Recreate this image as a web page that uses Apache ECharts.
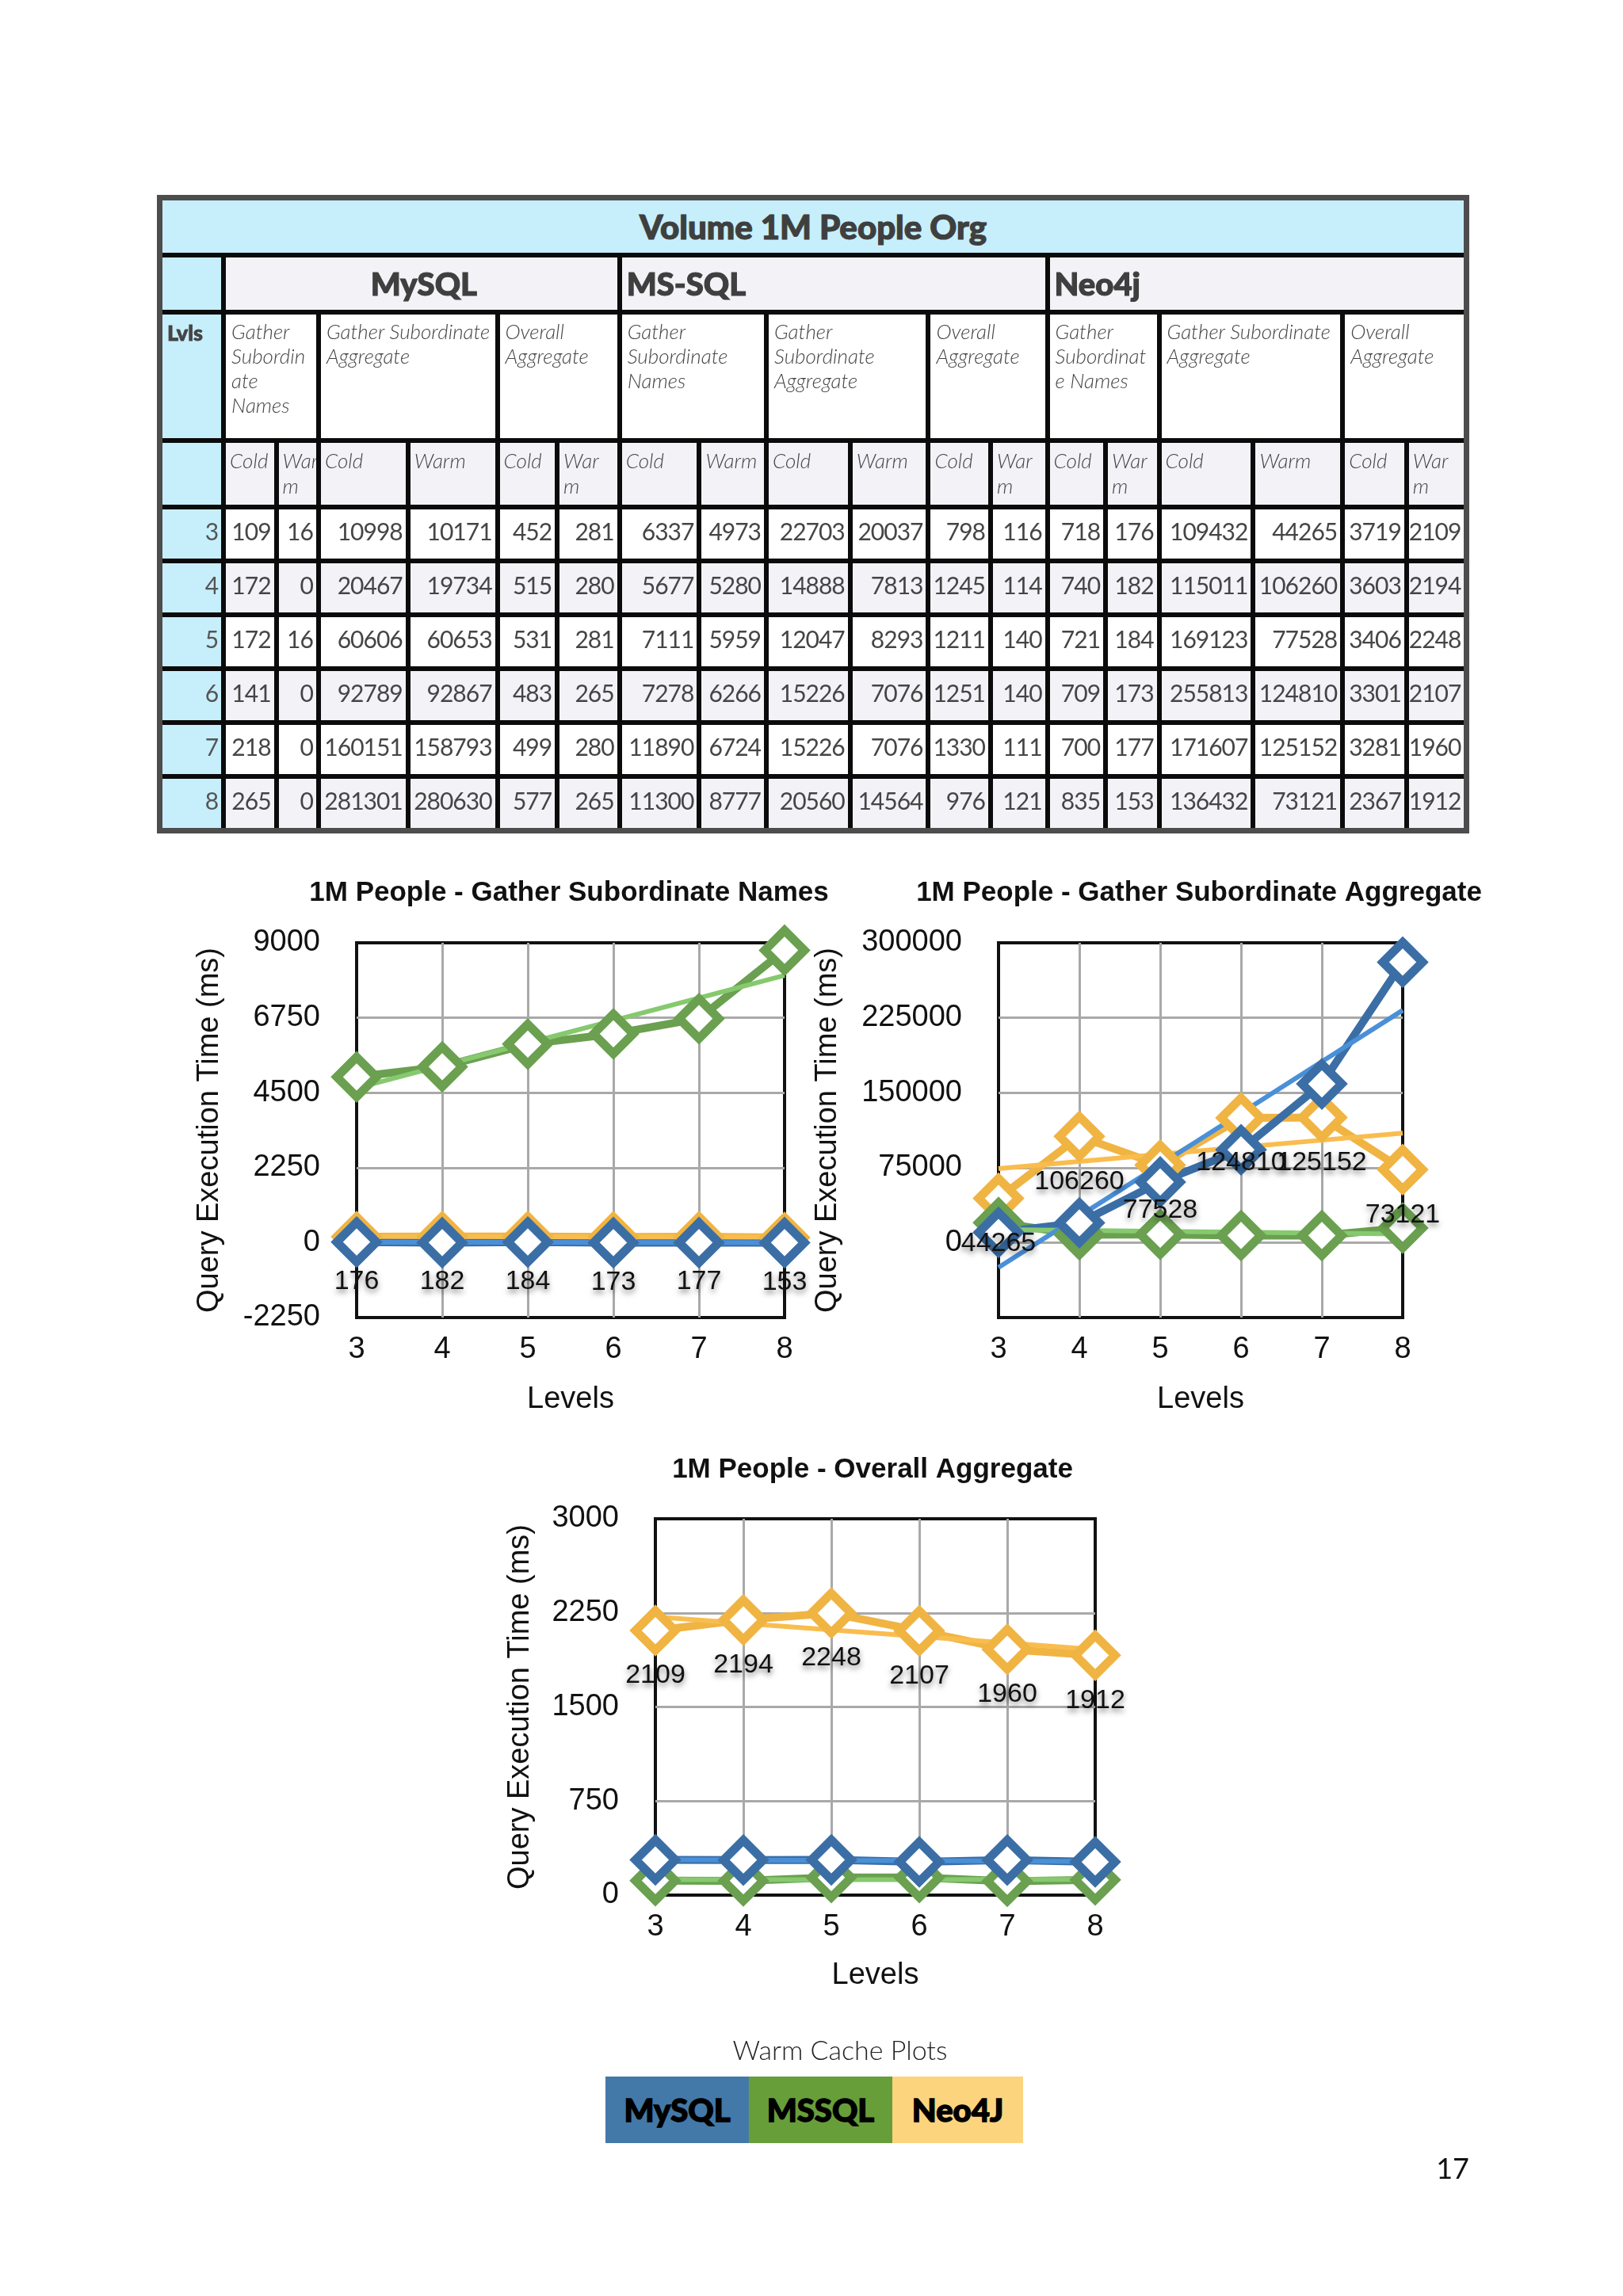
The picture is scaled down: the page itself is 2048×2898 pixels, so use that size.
<!DOCTYPE html>
<html><head><meta charset="utf-8">
<script src="https://cdn.jsdelivr.net/npm/echarts@6/dist/echarts.min.js"></script>
<style>
html,body{margin:0;padding:0;background:#fff;}
#page{position:relative;width:2048px;height:2898px;overflow:hidden;background:#fff;}
#chart{position:absolute;left:0;top:0;width:2048px;height:2898px;}
#tbl{position:absolute;left:198px;top:246px;width:1656px;border-collapse:collapse;table-layout:fixed;font-family:Lato,'Open Sans',sans-serif;color:#454545;border:7px solid #4d4d4d;}
#tbl td{border:6px solid #0b0b0b;padding:0;overflow:hidden;white-space:nowrap;}
#tbl td.ttl{background:#c7effb;height:66px;text-align:center;font-weight:900;font-size:42px;color:#3f3f3f;-webkit-text-stroke:1.2px #3f3f3f;}
#tbl td.lv{background:#c7effb;}
#tbl td.db{background:#f3f2f7;height:66px;font-weight:900;font-size:40px;padding-left:6px;color:#3f3f3f;-webkit-text-stroke:1.2px #3f3f3f;}
#tbl td.hd{background:#fff;height:150px;font-style:italic;font-weight:300;font-size:26px;line-height:31px;vertical-align:top;padding:6px 0 0 7px;white-space:normal;}
#tbl td.lvh{background:#c7effb;font-weight:900;font-size:27px;vertical-align:top;padding:6px 0 0 6px;-webkit-text-stroke:0.8px #454545;}
#tbl td.cw{background:#f3f2f7;height:72px;font-style:italic;font-weight:300;font-size:26px;line-height:32px;vertical-align:top;padding:6px 0 0 5px;}
#tbl td.num{height:54px;text-align:right;padding:0 4px 8px 0;font-size:30px;letter-spacing:-1px;}
#tbl tr.even td.num{background:#f3f2f7;}
#tbl tr.odd td.num{background:#fff;}
#tbl td.lvn{background:#c7effb !important;color:#555;}
#legend{position:absolute;left:764px;top:2621px;height:84px;display:flex;}
#legend div{height:84px;line-height:84px;text-align:center;font-family:Lato,'Open Sans',sans-serif;font-weight:900;font-size:40px;color:#000;-webkit-text-stroke:1.4px #000;}
#wcp{position:absolute;left:760px;width:600px;top:2566px;text-align:center;font-family:Lato,'Open Sans',sans-serif;font-weight:300;font-size:34px;color:#222;}
#pg{position:absolute;right:194px;top:2714px;font-family:Lato,'Open Sans',sans-serif;font-weight:400;font-size:36px;color:#111;}
</style>
</head><body>
<div id="page">
<div id="chart"></div>
<table id="tbl"></table>
<div id="wcp">Warm Cache Plots</div>
<div id="legend"></div>
<div id="pg">17</div>
</div>
<script>
// ---------- data ----------
const levels = ['3','4','5','6','7','8'];

const mysqlNamesCold = [109,172,172,141,218,265];
const mysqlNamesWarm = [16,0,16,0,0,0];
const mysqlAggCold = [10998,20467,60606,92789,160151,281301];
const mysqlAggWarm = [10171,19734,60653,92867,158793,280630];
const mysqlOverallCold = [452,515,531,483,499,577];
const mysqlOverallWarm = [281,280,281,265,280,265];

const mssqlNamesCold = [6337,5677,7111,7278,11890,11300];
const mssqlNamesWarm = [4973,5280,5959,6266,6724,8777];
const mssqlAggCold = [22703,14888,12047,15226,15226,20560];
const mssqlAggWarm = [20037,7813,8293,7076,7076,14564];
const mssqlOverallCold = [798,1245,1211,1251,1330,976];
const mssqlOverallWarm = [116,114,140,140,111,121];

const neoNamesCold = [718,740,721,709,700,835];
const neoNamesWarm = [176,182,184,173,177,153];
const neoAggCold = [109432,115011,169123,255813,171607,136432];
const neoAggWarm = [44265,106260,77528,124810,125152,73121];
const neoOverallCold = [3719,3603,3406,3301,3281,2367];
const neoOverallWarm = [2109,2194,2248,2107,1960,1912];

const tableTitle = 'Volume 1M People Org';
const dbNames = ['MySQL','MS-SQL','Neo4j'];
const mysqlHeaders = ['Gather<br>Subordin<br>ate<br>Names','Gather Subordinate<br>Aggregate','Overall<br>Aggregate'];
const mssqlHeaders = ['Gather<br>Subordinate<br>Names','Gather<br>Subordinate<br>Aggregate','Overall<br>Aggregate'];
const neoHeaders = ['Gather<br>Subordinat<br>e Names','Gather Subordinate<br>Aggregate','Overall<br>Aggregate'];
const coldWarmLabels = ['Cold','War<br>m','Cold','Warm','Cold','War<br>m',
                        'Cold','Warm','Cold','Warm','Cold','War<br>m',
                        'Cold','War<br>m','Cold','Warm','Cold','War<br>m'];

const chartTitles = ['1M People - Gather Subordinate Names','1M People - Gather Subordinate Aggregate','1M People - Overall Aggregate'];
const yAxisName = 'Query Execution Time (ms)';
const xAxisName = 'Levels';
const legendNames = ['MySQL','MSSQL','Neo4J'];

// ---------- table ----------
(function buildTable(){
  const colW = [80,66,53,112,112,75,78,100,84,105,98,78,71,73,67,118,112,80,75];
  const columns = [mysqlNamesCold,mysqlNamesWarm,mysqlAggCold,mysqlAggWarm,mysqlOverallCold,mysqlOverallWarm,
                   mssqlNamesCold,mssqlNamesWarm,mssqlAggCold,mssqlAggWarm,mssqlOverallCold,mssqlOverallWarm,
                   neoNamesCold,neoNamesWarm,neoAggCold,neoAggWarm,neoOverallCold,neoOverallWarm];
  let h = '<colgroup>' + colW.map(w=>'<col style="width:'+w+'px">').join('') + '</colgroup>';
  h += '<tr><td class="ttl" colspan="19">'+tableTitle+'</td></tr>';
  h += '<tr><td class="lv"></td>' + dbNames.map((d,i)=>'<td class="db" colspan="6" style="text-align:'+(i===0?'center':'left')+'">'+d+'</td>').join('') + '</tr>';
  h += '<tr><td class="lvh">Lvls</td>' + [mysqlHeaders,mssqlHeaders,neoHeaders].map(g=>g.map(t=>'<td class="hd" colspan="2">'+t+'</td>').join('')).join('') + '</tr>';
  h += '<tr><td class="lv" style="height:72px"></td>' + coldWarmLabels.map(t=>'<td class="cw">'+t+'</td>').join('') + '</tr>';
  levels.forEach((lv,r)=>{
    h += '<tr class="'+(r%2===0?'odd':'even')+'"><td class="num lvn">'+lv+'</td>' + columns.map(c=>'<td class="num">'+c[r]+'</td>').join('') + '</tr>';
  });
  document.getElementById('tbl').innerHTML = h;
  const legendColors = ['#4379a8','#679e3a','#fdd47e'];
  const legendWidths = [181,181,165];
  document.getElementById('legend').innerHTML = legendNames.map((n,i)=>'<div style="width:'+legendWidths[i]+'px;background:'+legendColors[i]+'">'+n+'</div>').join('');
})();

// ---------- charts ----------
const fontFam = "'Liberation Sans', Arial, Helvetica, sans-serif";
const C_MY = '#3b6ea5', C_MS = '#6aa04f', C_NEO = '#f0b443';
const T_MY = '#4a90d8', T_MS = '#86c96e', T_NEO = '#f9bd4f';

const layouts = [
  {grid:{left:450, top:1190, width:540, height:473}, tx:718, ty:1110, min:-2250, max:9000, interval:2250, yGap:166, xGap:85, hideNeg:false},
  {grid:{left:1260, top:1190, width:510, height:473}, tx:1513, ty:1110, min:-75000, max:300000, interval:75000, yGap:196, xGap:85, hideNeg:true},
  {grid:{left:827, top:1917, width:555, height:475}, tx:1101, ty:1838, min:0, max:3000, interval:750, yGap:151, xGap:83, hideNeg:false}
];
const seriesSets = [
  {my:mysqlNamesWarm, ms:mssqlNamesWarm, neo:neoNamesWarm},
  {my:mysqlAggWarm, ms:mssqlAggWarm, neo:neoAggWarm},
  {my:mysqlOverallWarm, ms:mssqlOverallWarm, neo:neoOverallWarm}
];

function linearTrend(vals){
  const n = vals.length;
  let sx=0, sy=0, sxx=0, sxy=0;
  vals.forEach((v,i)=>{sx+=i; sy+=v; sxx+=i*i; sxy+=i*v;});
  const b = (n*sxy - sx*sy)/(n*sxx - sx*sx);
  const a = (sy - b*sx)/n;
  return vals.map((_,i)=>Math.round((a+b*i)*10)/10);
}

function dataSeries(idx, name, vals, color, withLabel){
  return {
    type:'line', name:name, xAxisIndex:idx, yAxisIndex:idx, data:vals, clip:false,
    symbol:'diamond', symbolSize:50, showAllSymbol:true,
    lineStyle:{color:color, width:10},
    itemStyle:{color:'#ffffff', borderColor:color, borderWidth:11},
    label: withLabel ? {show:true, position:'inside', offset:[0,57], fontSize:34, color:'#111', fontFamily:fontFam,
      textShadowColor:'rgba(0,0,0,0.5)', textShadowBlur:7, textShadowOffsetY:4} : {show:false},
    emphasis:{disabled:true}, animation:false
  };
}
function trendSeries(idx, name, vals, color){
  return {type:'line', name:name+' trend', xAxisIndex:idx, yAxisIndex:idx, data:linearTrend(vals), clip:false,
    symbol:'none', lineStyle:{color:color, width:6}, emphasis:{disabled:true}, animation:false, silent:true};
}

const option = {
  animation:false,
  title: layouts.map((L,i)=>({text:chartTitles[i], left:L.tx, top:L.ty, textAlign:'center', padding:0,
    textStyle:{fontSize:35, fontWeight:'bold', color:'#111', fontFamily:fontFam}})),
  grid: layouts.map(L=>Object.assign({show:true, borderColor:'#111', borderWidth:4, backgroundColor:'rgba(0,0,0,0)'}, L.grid)),
  xAxis: layouts.map((L,i)=>({type:'category', gridIndex:i, data:levels, boundaryGap:false,
    axisLine:{show:false}, axisTick:{show:false},
    axisLabel:{fontSize:38, color:'#111', margin:22, fontFamily:fontFam},
    splitLine:{show:true, showMinLine:false, showMaxLine:false, lineStyle:{color:'#a9a9a9', width:3}},
    name:xAxisName, nameLocation:'middle', nameGap:L.xGap, nameTextStyle:{fontSize:38, color:'#111', fontFamily:fontFam}})),
  yAxis: layouts.map((L,i)=>({type:'value', gridIndex:i, min:L.min, max:L.max, interval:L.interval,
    axisLine:{show:false}, axisTick:{show:false},
    axisLabel:{fontSize:38, color:'#111', margin:46, fontFamily:fontFam,
      formatter: v => (L.hideNeg && v < 0) ? '' : String(v)},
    splitLine:{show:true, showMinLine:false, showMaxLine:false, lineStyle:{color:'#a9a9a9', width:3}},
    name:yAxisName, nameLocation:'middle', nameGap:L.yGap, nameRotate:90,
    nameTextStyle:{fontSize:38, color:'#111', fontFamily:fontFam}})),
  series: []
};
seriesSets.forEach((S,i)=>{
  option.series.push(dataSeries(i,'Neo4J',S.neo,C_NEO,true));
  option.series.push(dataSeries(i,'MSSQL',S.ms,C_MS,false));
  option.series.push(dataSeries(i,'MySQL',S.my,C_MY,false));
  option.series.push(trendSeries(i,'Neo4J',S.neo,T_NEO));
  option.series.push(trendSeries(i,'MSSQL',S.ms,T_MS));
  option.series.push(trendSeries(i,'MySQL',S.my,T_MY));
});
const chart = echarts.init(document.getElementById('chart'));
chart.setOption(option);
</script>
</body></html>
